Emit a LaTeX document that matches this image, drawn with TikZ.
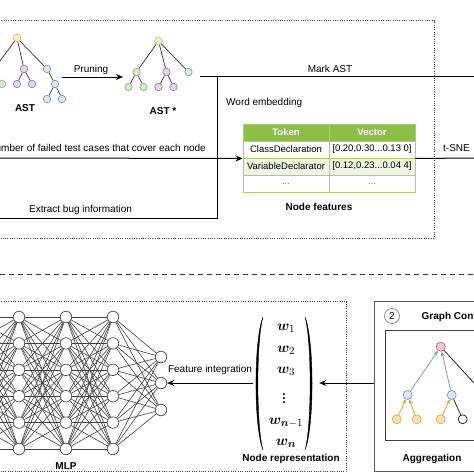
\documentclass[tikz,border=0pt]{standalone}
\usepackage{amsmath,bm}
\usepackage[no-math]{fontspec}
\setmainfont{Liberation Sans}
\usetikzlibrary{arrows.meta}
\definecolor{yfill}{HTML}{FFF2CC}\definecolor{ydraw}{HTML}{D6B656}
\definecolor{pfill}{HTML}{E1D5E7}\definecolor{pdraw}{HTML}{9673A6}
\definecolor{bfill}{HTML}{DAE8FC}\definecolor{bdraw}{HTML}{6C8EBF}
\definecolor{gfill}{HTML}{D5E8D4}\definecolor{gdraw}{HTML}{82B366}
\definecolor{rfill}{HTML}{F8CECC}\definecolor{rdraw}{HTML}{B85450}
\definecolor{ofill}{HTML}{FFE0B2}\definecolor{odraw}{HTML}{D6A33A}
\definecolor{thead}{HTML}{8CBF45}\definecolor{tborder}{HTML}{A9CD72}
\definecolor{trow}{HTML}{EEF5E0}\definecolor{barrow}{HTML}{7F9AC4}
\begin{document}
\begin{tikzpicture}[x=1pt,y=-1pt,
  tn/.style={circle,minimum size=7.5pt,inner sep=0pt,line width=0.6pt},
  cy/.style={tn,fill=yfill,draw=ydraw},
  cp/.style={tn,fill=pfill,draw=pdraw},
  cb/.style={tn,fill=bfill,draw=bdraw},
  cg/.style={tn,fill=gfill,draw=gdraw},
  te/.style={draw=black!80,line width=0.7pt},
  lab/.style={font=\fontsize{10}{12}\selectfont,inner sep=0pt},
  blab/.style={font=\fontsize{10}{12}\selectfont\bfseries,inner sep=0pt},
  nn/.style={circle,draw=black!70,fill=white,minimum size=11.5pt,inner sep=0pt,line width=0.7pt},
  ne/.style={draw=black!75,line width=0.6pt},
  arr/.style={-{Stealth[length=7pt,width=6pt]},line width=1pt},
  wire/.style={line width=1pt},
  dotbox/.style={draw=black!75,line width=0.8pt,dash pattern=on 1pt off 1.3pt},
  cell/.style={draw=tborder,line width=0.9pt,minimum width=86pt,minimum height=17pt,inner sep=0pt,font=\fontsize{9.5}{11}\selectfont},
  hcell/.style={cell,fill=thead,text=white,font=\fontsize{9.5}{11}\selectfont\bfseries},
  an/.style={circle,minimum size=9pt,inner sep=0pt,line width=0.6pt},
  wv/.style={inner sep=0pt,font=\fontsize{15}{17}\selectfont}
]
\useasboundingbox (0,0) rectangle (474,474);
\fill[white] (0,0) rectangle (474,474);

% ---------- top dotted box ----------
\draw[dotbox] (-10,20.7) -- (434.5,20.7) -- (434.5,238) -- (-10,238);

% ---------- AST tree ----------
\node[cy] (a0) at (17,38) {};
\node[cg] (a1) at (-6,69) {};
\node[cp] (a2) at (24,69) {};
\node[cb] (a3) at (47,69) {};
\node[cg] (a11) at (-13,84) {};
\node[cg] (a12) at (2,84) {};
\node[cp] (a21) at (17,84) {};
\node[cp] (a22) at (32,84) {};
\node[cb] (a31) at (55,84) {};
\node[cb] (a311) at (47,99) {};
\node[cb] (a312) at (62,99) {};
\foreach \p/\c in {a0/a1,a0/a2,a0/a3,a1/a11,a1/a12,a2/a21,a2/a22,a3/a31,a31/a311,a31/a312}
  \draw[te] (\p) -- (\c);
\node[blab] (astl) at (25,108) {AST};

% ---------- pruning ----------
\coordinate (pr1) at (62,77);
\coordinate (pr2) at (123,77);
\draw[arr] (pr1) -- (pr2);
\node[lab] (prl) at (91,70) {Pruning};

% ---------- AST* tree ----------
\node[cy] (b0) at (158.5,41) {};
\node[cg] (b1) at (136.5,72) {};
\node[cp] (b2) at (166.5,72) {};
\node[cb] (b3) at (188.5,72) {};
\node[cg] (b11) at (128.5,87) {};
\node[cg] (b12) at (143.5,87) {};
\node[cp] (b21) at (158.5,87) {};
\node[cp] (b22) at (173.5,87) {};
\foreach \p/\c in {b0/b1,b0/b2,b0/b3,b1/b11,b1/b12,b2/b21,b2/b22}
  \draw[te] (\p) -- (\c);
\node[blab] (astsl) at (163,111) {AST *};

% ---------- Mark AST / bug info lines ----------
\coordinate (m1) at (200,76);
\coordinate (m2) at (480,76);
\coordinate (j1) at (217,76);
\coordinate (j2) at (217,218);
\coordinate (e1) at (-10,218);
\draw[wire] (m1) -- (m2);
\draw[wire] (j1) -- (j2) -- (e1);
\node[lab] (mkl) at (330,69) {Mark AST};
\node[lab,anchor=west] (wel) at (226,103) {Word embedding};
\node[lab,anchor=east] (nfl) at (206,148) {Number of failed test cases that cover each node};
\node[lab] (ebl) at (80.5,209.5) {Extract bug information};

% ---------- table ----------
\node[hcell] (t01) at (286,132.5) {Token};
\node[hcell] (t02) at (372,132.5) {Vector};
\node[cell] (t11) at (286,149.5) {ClassDeclaration};
\node[cell] (t12) at (372,149.5) {[0.20,0.30...0.13 0]};
\node[cell,fill=trow] (t21) at (286,166.5) {VariableDeclarator};
\node[cell,fill=trow] (t22) at (372,166.5) {[0.12,0.23...0.04 4]};
\node[cell] (t31) at (286,183.5) {\textcolor{black!55}{...}};
\node[cell] (t32) at (372,183.5) {\textcolor{black!55}{...}};
\node[blab] (nfe) at (319,207) {Node features};

\coordinate (n1) at (-10,158);
\draw[arr] (n1) -- (t11.south west);
\coordinate (ts) at (480,158);
\draw[wire] (t12.south east) -- (ts);
\node[lab] (tsl) at (456.5,148) {t-SNE};

% ---------- separator ----------
\draw[line width=1pt,draw=black!80,dash pattern=on 5pt off 4pt] (0,274) -- (474,274);

% ---------- bottom dotted box ----------
\draw[dotbox] (-10,301.7) -- (346.7,301.7) -- (346.7,471.7) -- (-10,471.7);

% ---------- MLP ----------
\foreach \c/\x in {0/-28,1/19,2/66,3/113}{
  \foreach \r/\y in {1/317,2/343.4,3/369.8,4/396.2,5/422.6,6/449}{
    \node[nn] (m\c-\r) at (\x,\y) {};
  }
}
\foreach \r/\y in {1/357,2/383,3/410}{\node[nn] (o\r) at (161,\y) {};}
\foreach \a/\b in {0/1,1/2,2/3}{
  \foreach \i in {1,...,6}{
    \foreach \j in {1,...,6}{\draw[ne] (m\a-\i) -- (m\b-\j);}
  }
}
\foreach \i in {1,...,6}{\foreach \j in {1,2,3}{\draw[ne] (m3-\i) -- (o\j);}}
\node[blab] (mlpl) at (66,466.5) {MLP};

% ---------- node representation ----------
\node[minimum width=66pt,minimum height=135pt,inner sep=0pt] (vec) at (286,383) {};
\filldraw[line width=0.4pt] (263,317) .. controls (253.6,340) and (253.6,427) .. (263,450)
   .. controls (256.2,427) and (256.2,340) .. (263,317);
\filldraw[line width=0.4pt] (305,317) .. controls (314.4,340) and (314.4,427) .. (305,450)
   .. controls (311.8,427) and (311.8,340) .. (305,317);
\node[wv] (w1) at (286,328) {$\bm{w}_1$};
\node[wv] (w2) at (286,350) {$\bm{w}_2$};
\node[wv] (w3) at (286,371) {$\bm{w}_3$};
\node[inner sep=0pt,font=\fontsize{12}{13}\selectfont] (wd) at (284,396) {$\bm{\vdots}$};
\node[wv] (wn1) at (286,423) {$\bm{w}_{\bm{n}-1}$};
\node[wv] (wn) at (286,443) {$\bm{w}_{\bm{n}}$};
\node[blab] (nrl) at (291,459) {Node representation};

\draw[arr] (vec.west) -- (o2);
\node[lab] (fil) at (210,370) {Feature integration};

% ---------- graph convolution box ----------
\node[draw=black!65,line width=1pt,minimum width=116pt,minimum height=170pt,inner sep=0pt] (gc) at (432,386.7) {};
\draw[line width=0.9pt,draw=black!75] (385,330) rectangle (495,440.7);
\node[circle,draw=black!45,line width=0.8pt,minimum size=15pt,inner sep=0pt,font=\fontsize{10}{12}\selectfont] (two) at (392,316) {2};
\node[blab,anchor=west] (gcl) at (421.5,317) {Graph Convolution};
\node[blab] (agl) at (432,459) {Aggregation};
\draw[arr] (gc.west |- vec.east) -- (vec.east);

% aggregation tree
\node[an,fill=rfill,draw=rdraw] (r0) at (440.7,346.7) {};
\node[an,fill=bfill,draw=bdraw] (bl1) at (407.7,395) {};
\node[an,fill=bfill,draw=bdraw] (bl2) at (451.7,395) {};
\node[an,fill=bfill,draw=bdraw] (bl3) at (485,395) {};
\node[an,fill=ofill,draw=odraw] (or1) at (396.7,419.3) {};
\node[an,fill=ofill,draw=odraw] (or2) at (416.7,419.3) {};
\node[an,fill=ofill,draw=odraw] (or3) at (440.7,419.3) {};
\node[an,fill=white,draw=black] (wh) at (462.7,419.3) {};
\draw[draw=barrow,line width=0.8pt,-{Stealth[length=5pt,width=4pt]}] (bl1) -- (r0);
\draw[draw=barrow,line width=0.8pt,-{Stealth[length=5pt,width=4pt]}] (bl2) -- (r0);
\draw[draw=odraw,line width=0.8pt,-{Stealth[length=4.5pt,width=4pt]}] (or1) -- (bl1);
\draw[draw=odraw,line width=0.8pt,-{Stealth[length=4.5pt,width=4pt]}] (or2) -- (bl1);
\draw[draw=odraw,line width=0.8pt,-{Stealth[length=4.5pt,width=4pt]}] (or3) -- (bl2);
\draw[line width=0.8pt,draw=black!85] (wh) -- (bl2);
\draw[line width=0.8pt,draw=black!85] (r0) -- (bl3);
\end{tikzpicture}
\end{document}
